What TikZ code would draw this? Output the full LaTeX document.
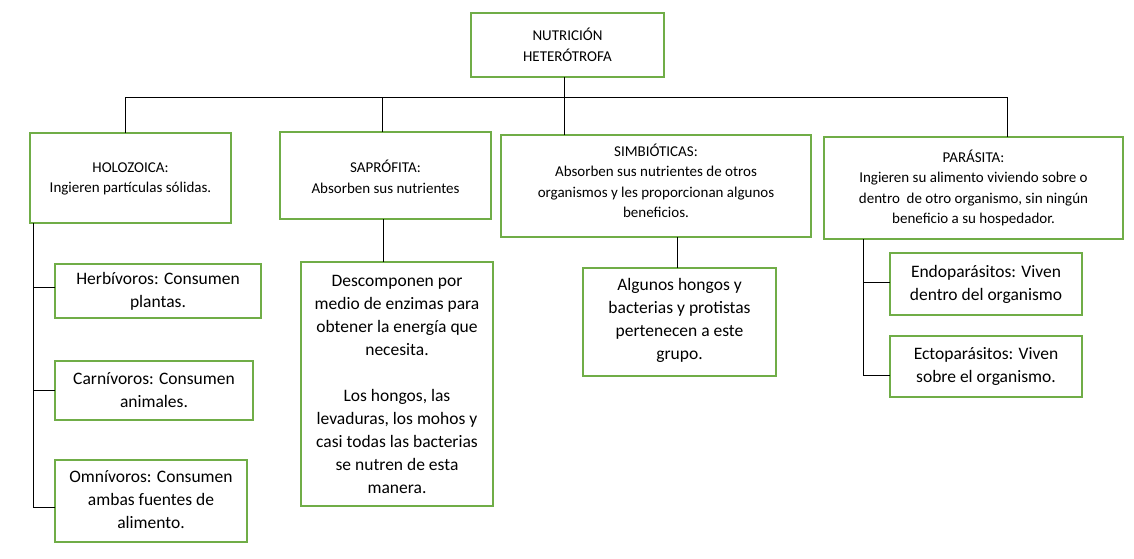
\documentclass[tikz,border=0pt]{standalone}
\usepackage{fontspec}
\setmainfont{Carlito}
\definecolor{gr}{HTML}{70AD47}
\begin{document}
\begin{tikzpicture}[x=1pt,y=-1pt,
 bx/.style={draw=gr,line width=2pt,fill=white},
 sm/.style={font=\fontsize{15}{20.5}\selectfont,align=center},
 lg/.style={font=\fontsize{17.5}{23}\selectfont,align=center},
 ln/.style={line width=1pt}]
\useasboundingbox[fill=white] (0,0) rectangle (1134,558);
\draw[bx] (471,13) rectangle (664,77);
\node[sm] (t) at (567.5,45) {NUTRICIÓN\\HETERÓTROFA};
\draw[bx] (30,133) rectangle (231,223);
\node[sm] (h) at (130.5,179) {HOLOZOICA:\\Ingieren partículas sólidas.};
\draw[bx] (280,132) rectangle (491,219);
\node[sm] (s) at (385.5,177) {SAPRÓFITA:\\Absorben sus nutrientes};
\draw[bx] (501,135) rectangle (811,237);
\node[sm] (b) at (656,181) {SIMBIÓTICAS:\\Absorben sus nutrientes de otros\\organismos y les proporcionan algunos\\beneficios.};
\draw[bx] (824,137) rectangle (1123,239);
\node[sm] (p) at (973.5,188) {PARÁSITA:\\Ingieren su alimento viviendo sobre o\\dentro\ \ de otro organismo, sin ningún\\beneficio a su hospedador.};
\draw[bx] (55,264) rectangle (261,318);
\node[lg] (h1) at (158,291) {Herbívoros: Consumen\\plantas.};
\draw[bx] (55,361) rectangle (253,420);
\node[lg] (h2) at (154,390) {Carnívoros: Consumen\\animales.};
\draw[bx] (55,460) rectangle (247,542);
\node[lg] (h3) at (151,500) {Omnívoros: Consumen\\ambas fuentes de\\alimento.};
\draw[bx] (301,262) rectangle (493,506);
\node[lg] (s1) at (397,384) {Descomponen por\\medio de enzimas para\\obtener la energía que\\necesita.\\[23pt]Los hongos, las\\levaduras, los mohos y\\casi todas las bacterias\\se nutren de esta\\manera.};
\draw[bx] (583,268) rectangle (776,376);
\node[lg] (b1) at (679.5,320) {Algunos hongos y\\bacterias y protistas\\pertenecen a este\\grupo.};
\draw[bx] (890,253) rectangle (1082,315);
\node[lg] (p1) at (986,284) {Endoparásitos: Viven\\dentro del organismo};
\draw[bx] (890,336) rectangle (1082,397);
\node[lg] (p2) at (986,366) {Ectoparásitos: Viven\\sobre el organismo.};
\coordinate (l) at (125,97); \coordinate (r) at (1007,97);
\draw[ln] (l) -- (r);
\draw[ln] (564,77) -- (564,135);
\draw[ln] (l) -- (125,133);
\draw[ln] (382,97) -- (382,132);
\draw[ln] (r) -- (1007,137);
\draw[ln] (33,223) -- (33,507);
\foreach \y in {287,390,507} \draw[ln] (33,\y) -- (55,\y);
\draw[ln] (383,219) -- (383,262);
\draw[ln] (677,237) -- (677,268);
\draw[ln] (863,239) -- (863,375);
\foreach \y in {282,375} \draw[ln] (863,\y) -- (890,\y);
\end{tikzpicture}
\end{document}
